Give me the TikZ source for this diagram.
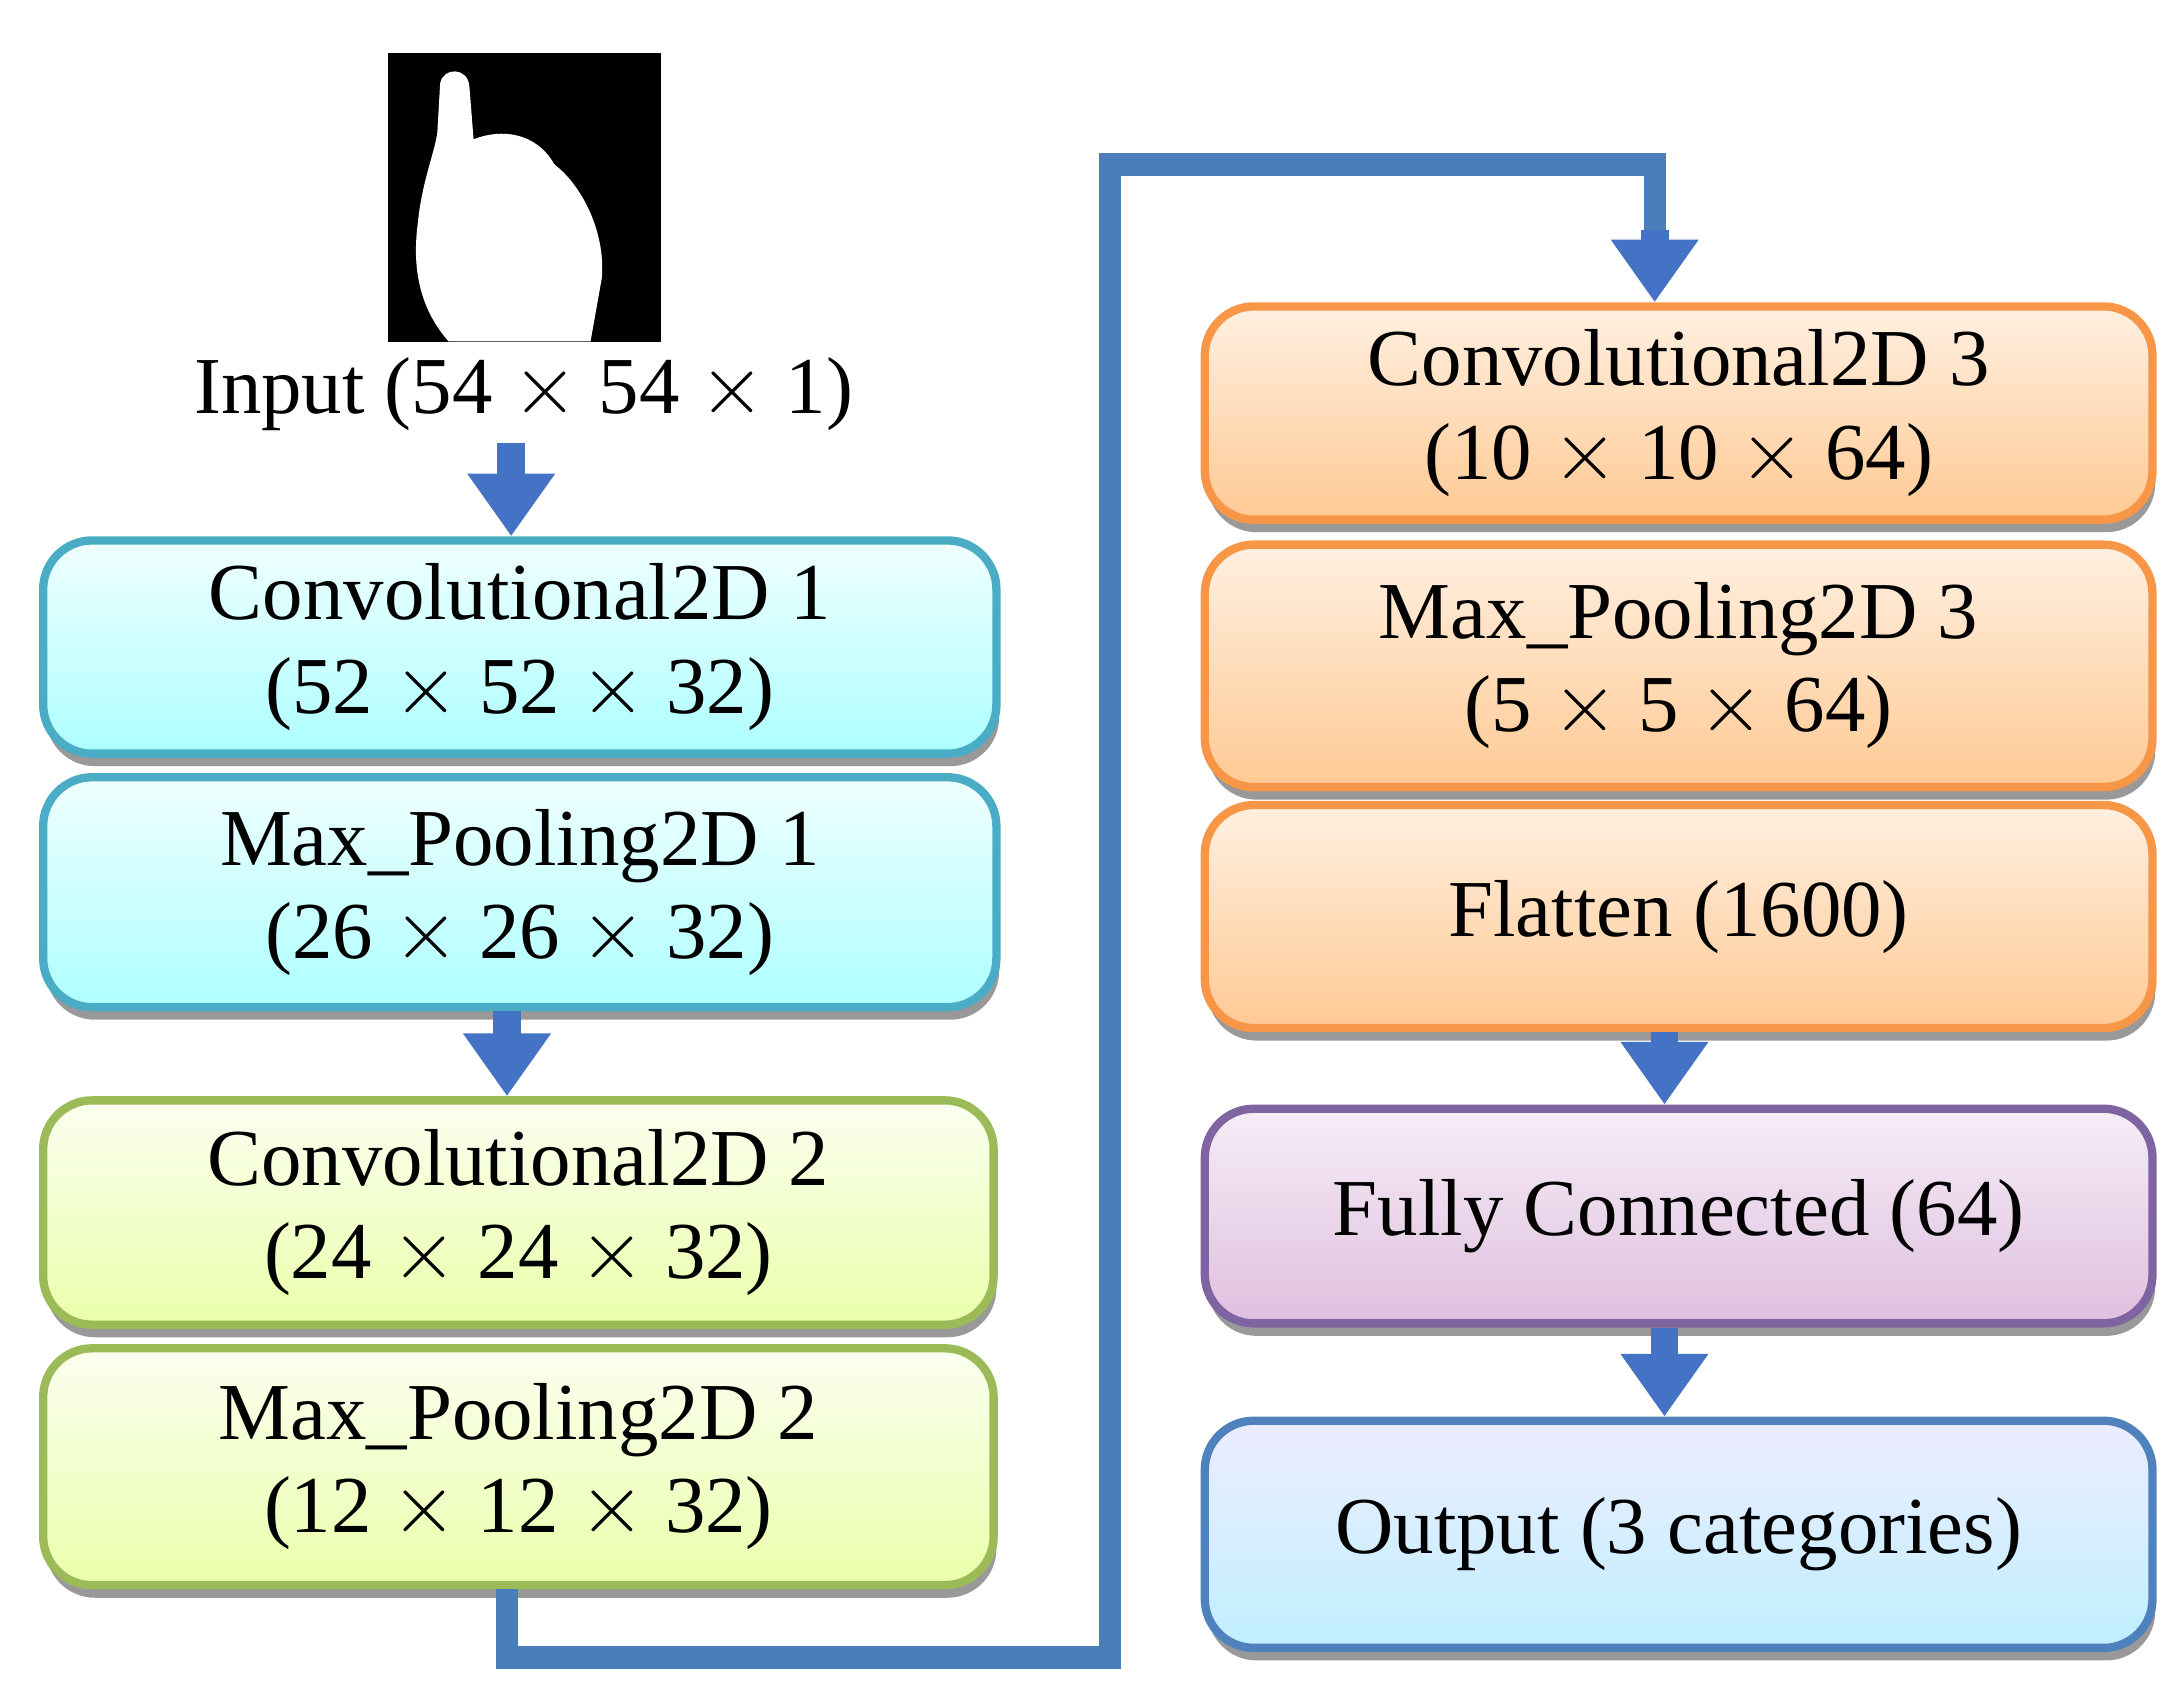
\documentclass[tikz,border=0pt]{standalone}
\usepackage{fontspec}
\setmainfont{Liberation Serif}
\usetikzlibrary{shadows,arrows.meta}
\definecolor{arrowblue}{HTML}{4472C4}
\definecolor{lineblue}{HTML}{4A7EBB}
\definecolor{cyanedge}{HTML}{4BACC6}
\definecolor{greenedge}{HTML}{9BBB59}
\definecolor{orangeedge}{HTML}{F79646}
\definecolor{purpleedge}{HTML}{8064A2}
\definecolor{blueedge}{HTML}{4F81BD}
\tikzset{
  layer/.style={draw, line width=1.7pt, rounded corners=10pt, align=center,
    inner sep=0pt,
    drop shadow={shadow xshift=0.02cm, shadow yshift=-0.09cm, fill=black!40, opacity=1}},
  lbl/.style={font=\fontsize{16.5}{19}\selectfont, align=center},
  cyanbox/.style={layer, draw=cyanedge, top color=cyan!6, bottom color=cyan!32},
  greenbox/.style={layer, draw=greenedge, top color=lime!6, bottom color=lime!33},
  orangebox/.style={layer, draw=orangeedge, top color=orange!12, bottom color=orange!42},
  purplebox/.style={layer, draw=purpleedge, top color=violet!7, bottom color=violet!25},
  bluebox/.style={layer, draw=blueedge, top color=blue!7, bottom color=blue!25!cyan!25},
  blockarrow/.style={draw=arrowblue, line width=0.2cm, -{Triangle[width=0.6cm,length=0.45cm]}},
}
\newcommand{\lbox}[6]{\node[#1, minimum width=#3cm, minimum height=#4cm, anchor=north west] (#2) at (#5,#6) {};}
\begin{document}
\begin{tikzpicture}[x=0.01cm,y=-0.01cm]
\useasboundingbox (0,0) rectangle (1568,1208);
% input image
\node[fill=black, minimum width=1.96cm, minimum height=2.08cm, inner sep=0pt, anchor=north west] (img) at (278,37) {};
\fill[white] (316,60) .. controls (318,48) and (336,48) .. (337,62) -- (340,100)
  .. controls (360,92) and (385,95) .. (398,118) .. controls (420,135) and (435,170) .. (432,200)
  -- (424,245) -- (322,245) .. controls (300,220) and (296,190) .. (300,160)
  .. controls (303,130) and (312,110) .. (314,95) -- cycle;
\node[lbl] (in) at (376,283) {Input (54 $\times$ 54 $\times$ 1)};
% left column
\lbox{cyanbox}{c1}{6.84}{1.53}{28}{385}
\node[lbl] at (c1) {Convolutional2D 1\\(52 $\times$ 52 $\times$ 32)};
\lbox{cyanbox}{p1}{6.84}{1.65}{28}{555}
\node[lbl] at (p1) {Max\_Pooling2D 1\\(26 $\times$ 26 $\times$ 32)};
\lbox{greenbox}{c2}{6.82}{1.61}{28}{787}
\node[lbl] at (c2) {Convolutional2D 2\\(24 $\times$ 24 $\times$ 32)};
\lbox{greenbox}{p2}{6.82}{1.70}{28}{965}
\node[lbl] at (p2) {Max\_Pooling2D 2\\(12 $\times$ 12 $\times$ 32)};
% right column
\lbox{orangebox}{c3}{6.80}{1.53}{862}{217}
\node[lbl] at (c3) {Convolutional2D 3\\(10 $\times$ 10 $\times$ 64)};
\lbox{orangebox}{p3}{6.80}{1.74}{862}{388}
\node[lbl] at (p3) {Max\_Pooling2D 3\\(5 $\times$ 5 $\times$ 64)};
\lbox{orangebox}{fl}{6.80}{1.60}{862}{575}
\node[lbl] at (fl) {Flatten (1600)};
\lbox{purplebox}{fc}{6.80}{1.54}{862}{793}
\node[lbl] at (fc) {Fully Connected (64)};
\lbox{bluebox}{out}{6.80}{1.63}{862}{1017}
\node[lbl] at (out) {Output (3 categories)};
% arrows
\draw[blockarrow] (367,318) -- (c1.north -| 367,0);
\draw[blockarrow] (p1.south -| 364,0) -- (c2.north -| 364,0);
\draw[blockarrow] (fl.south -| 1195,0) -- (fc.north -| 1195,0);
\draw[blockarrow] (fc.south -| 1195,0) -- (out.north -| 1195,0);
\coordinate (k1) at (364,1190);
\coordinate (k2) at (797,1190);
\coordinate (k3) at (797,118);
\coordinate (k4) at (1188,118);
\draw[lineblue, line width=0.16cm, line join=miter] (p2.south -| 364,0) -- (k1) -- (k2) -- (k3) -- (k4) -- (1188,175);
\draw[blockarrow] (1188,165) -- (c3.north -| 1188,0);
\end{tikzpicture}
\end{document}
